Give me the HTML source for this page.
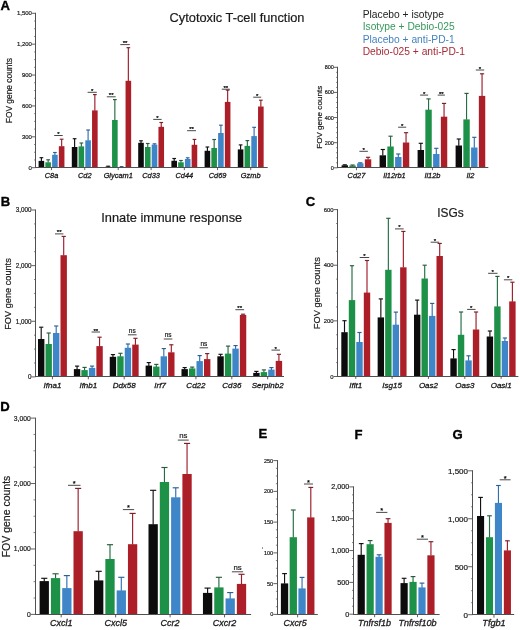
<!DOCTYPE html>
<html><head><meta charset="utf-8"><title>Figure</title>
<style>
html,body{margin:0;padding:0;background:#fff;}
svg{display:block;font-family:"Liberation Sans",sans-serif;}
</style></head><body>
<svg width="520" height="630" viewBox="0 0 520 630">
<rect width="520" height="630" fill="#fff"/>
<rect x="38.6" y="160.9" width="5.6" height="6.8" fill="#0c0c0c"/>
<line x1="41.4" y1="161.2" x2="41.4" y2="157.7" stroke="#111" stroke-width="1.15"/>
<line x1="39.55" y1="157.7" x2="43.25" y2="157.7" stroke="#111" stroke-width="1.15"/>
<rect x="45.35" y="162.3" width="5.6" height="5.4" fill="#1e9148"/>
<line x1="48.15" y1="162.6" x2="48.15" y2="159.8" stroke="#236e44" stroke-width="1.15"/>
<line x1="46.3" y1="159.8" x2="50" y2="159.8" stroke="#2c5a3c" stroke-width="1.15"/>
<rect x="52.1" y="154.8" width="5.6" height="12.9" fill="#3f86c8"/>
<line x1="54.9" y1="155.1" x2="54.9" y2="152.5" stroke="#2f70b4" stroke-width="1.15"/>
<line x1="53.05" y1="152.5" x2="56.75" y2="152.5" stroke="#2f5f92" stroke-width="1.15"/>
<rect x="58.85" y="146.2" width="5.6" height="21.5" fill="#ad1f28"/>
<line x1="61.65" y1="146.5" x2="61.65" y2="139.2" stroke="#9e1c2a" stroke-width="1.15"/>
<line x1="59.8" y1="139.2" x2="63.5" y2="139.2" stroke="#7a2028" stroke-width="1.15"/>
<text x="51.53" y="178.2" font-size="7.4" text-anchor="middle" font-style="italic" fill="#1a1a1a" stroke="#1a1a1a" stroke-width="0.3">C8a</text>
<line x1="51.53" y1="167.7" x2="51.53" y2="170.1" stroke="#505050" stroke-width="0.9"/>
<rect x="71.8" y="147" width="5.6" height="20.7" fill="#0c0c0c"/>
<line x1="74.6" y1="147.3" x2="74.6" y2="138.7" stroke="#111" stroke-width="1.15"/>
<line x1="72.75" y1="138.7" x2="76.45" y2="138.7" stroke="#111" stroke-width="1.15"/>
<rect x="78.55" y="146.4" width="5.6" height="21.3" fill="#1e9148"/>
<line x1="81.35" y1="146.7" x2="81.35" y2="143" stroke="#236e44" stroke-width="1.15"/>
<line x1="79.5" y1="143" x2="83.2" y2="143" stroke="#2c5a3c" stroke-width="1.15"/>
<rect x="85.3" y="140.3" width="5.6" height="27.4" fill="#3f86c8"/>
<line x1="88.1" y1="140.6" x2="88.1" y2="130" stroke="#2f70b4" stroke-width="1.15"/>
<line x1="86.25" y1="130" x2="89.95" y2="130" stroke="#2f5f92" stroke-width="1.15"/>
<rect x="92.05" y="110.4" width="5.6" height="57.3" fill="#ad1f28"/>
<line x1="94.85" y1="110.7" x2="94.85" y2="94.6" stroke="#9e1c2a" stroke-width="1.15"/>
<line x1="93" y1="94.6" x2="96.7" y2="94.6" stroke="#7a2028" stroke-width="1.15"/>
<text x="84.73" y="178.2" font-size="7.4" text-anchor="middle" font-style="italic" fill="#1a1a1a" stroke="#1a1a1a" stroke-width="0.3">Cd2</text>
<line x1="84.73" y1="167.7" x2="84.73" y2="170.1" stroke="#505050" stroke-width="0.9"/>
<rect x="105.3" y="166.7" width="5.6" height="1" fill="#0c0c0c"/>
<line x1="108.1" y1="167" x2="108.1" y2="166.2" stroke="#111" stroke-width="1.15"/>
<line x1="106.25" y1="166.2" x2="109.95" y2="166.2" stroke="#111" stroke-width="1.15"/>
<rect x="112.05" y="120" width="5.6" height="47.7" fill="#1e9148"/>
<line x1="114.85" y1="120.3" x2="114.85" y2="99.6" stroke="#236e44" stroke-width="1.15"/>
<line x1="113" y1="99.6" x2="116.7" y2="99.6" stroke="#2c5a3c" stroke-width="1.15"/>
<rect x="118.8" y="167" width="5.6" height="0.7" fill="#3f86c8"/>
<line x1="121.6" y1="167.3" x2="121.6" y2="166.6" stroke="#2f70b4" stroke-width="1.15"/>
<line x1="119.75" y1="166.6" x2="123.45" y2="166.6" stroke="#2f5f92" stroke-width="1.15"/>
<rect x="125.55" y="80.8" width="5.6" height="86.9" fill="#ad1f28"/>
<line x1="128.35" y1="81.1" x2="128.35" y2="47.7" stroke="#9e1c2a" stroke-width="1.15"/>
<line x1="126.5" y1="47.7" x2="130.2" y2="47.7" stroke="#7a2028" stroke-width="1.15"/>
<text x="118.22" y="178.2" font-size="7.4" text-anchor="middle" font-style="italic" fill="#1a1a1a" stroke="#1a1a1a" stroke-width="0.3">Glycam1</text>
<line x1="118.22" y1="167.7" x2="118.22" y2="170.1" stroke="#505050" stroke-width="0.9"/>
<rect x="138.2" y="142.8" width="5.6" height="24.9" fill="#0c0c0c"/>
<line x1="141" y1="143.1" x2="141" y2="140.8" stroke="#111" stroke-width="1.15"/>
<line x1="139.15" y1="140.8" x2="142.85" y2="140.8" stroke="#111" stroke-width="1.15"/>
<rect x="144.95" y="147" width="5.6" height="20.7" fill="#1e9148"/>
<line x1="147.75" y1="147.3" x2="147.75" y2="143.5" stroke="#236e44" stroke-width="1.15"/>
<line x1="145.9" y1="143.5" x2="149.6" y2="143.5" stroke="#2c5a3c" stroke-width="1.15"/>
<rect x="151.7" y="144.6" width="5.6" height="23.1" fill="#3f86c8"/>
<line x1="154.5" y1="144.9" x2="154.5" y2="143.8" stroke="#2f70b4" stroke-width="1.15"/>
<line x1="152.65" y1="143.8" x2="156.35" y2="143.8" stroke="#2f5f92" stroke-width="1.15"/>
<rect x="158.45" y="126.8" width="5.6" height="40.9" fill="#ad1f28"/>
<line x1="161.25" y1="127.1" x2="161.25" y2="122.5" stroke="#9e1c2a" stroke-width="1.15"/>
<line x1="159.4" y1="122.5" x2="163.1" y2="122.5" stroke="#7a2028" stroke-width="1.15"/>
<text x="151.13" y="178.2" font-size="7.4" text-anchor="middle" font-style="italic" fill="#1a1a1a" stroke="#1a1a1a" stroke-width="0.3">Cd33</text>
<line x1="151.13" y1="167.7" x2="151.13" y2="170.1" stroke="#505050" stroke-width="0.9"/>
<rect x="171.4" y="160.8" width="5.6" height="6.9" fill="#0c0c0c"/>
<line x1="174.2" y1="161.1" x2="174.2" y2="158.5" stroke="#111" stroke-width="1.15"/>
<line x1="172.35" y1="158.5" x2="176.05" y2="158.5" stroke="#111" stroke-width="1.15"/>
<rect x="178.15" y="162.3" width="5.6" height="5.4" fill="#1e9148"/>
<line x1="180.95" y1="162.6" x2="180.95" y2="160.5" stroke="#236e44" stroke-width="1.15"/>
<line x1="179.1" y1="160.5" x2="182.8" y2="160.5" stroke="#2c5a3c" stroke-width="1.15"/>
<rect x="184.9" y="159" width="5.6" height="8.7" fill="#3f86c8"/>
<line x1="187.7" y1="159.3" x2="187.7" y2="157.8" stroke="#2f70b4" stroke-width="1.15"/>
<line x1="185.85" y1="157.8" x2="189.55" y2="157.8" stroke="#2f5f92" stroke-width="1.15"/>
<rect x="191.65" y="144.8" width="5.6" height="22.9" fill="#ad1f28"/>
<line x1="194.45" y1="145.1" x2="194.45" y2="139.4" stroke="#9e1c2a" stroke-width="1.15"/>
<line x1="192.6" y1="139.4" x2="196.3" y2="139.4" stroke="#7a2028" stroke-width="1.15"/>
<text x="184.33" y="178.2" font-size="7.4" text-anchor="middle" font-style="italic" fill="#1a1a1a" stroke="#1a1a1a" stroke-width="0.3">Cd44</text>
<line x1="184.33" y1="167.7" x2="184.33" y2="170.1" stroke="#505050" stroke-width="0.9"/>
<rect x="204.6" y="150.8" width="5.6" height="16.9" fill="#0c0c0c"/>
<line x1="207.4" y1="151.1" x2="207.4" y2="147" stroke="#111" stroke-width="1.15"/>
<line x1="205.55" y1="147" x2="209.25" y2="147" stroke="#111" stroke-width="1.15"/>
<rect x="211.35" y="148" width="5.6" height="19.7" fill="#1e9148"/>
<line x1="214.15" y1="148.3" x2="214.15" y2="139.5" stroke="#236e44" stroke-width="1.15"/>
<line x1="212.3" y1="139.5" x2="216" y2="139.5" stroke="#2c5a3c" stroke-width="1.15"/>
<rect x="218.1" y="133" width="5.6" height="34.7" fill="#3f86c8"/>
<line x1="220.9" y1="133.3" x2="220.9" y2="125.2" stroke="#2f70b4" stroke-width="1.15"/>
<line x1="219.05" y1="125.2" x2="222.75" y2="125.2" stroke="#2f5f92" stroke-width="1.15"/>
<rect x="224.85" y="101.9" width="5.6" height="65.8" fill="#ad1f28"/>
<line x1="227.65" y1="102.2" x2="227.65" y2="90.1" stroke="#9e1c2a" stroke-width="1.15"/>
<line x1="225.8" y1="90.1" x2="229.5" y2="90.1" stroke="#7a2028" stroke-width="1.15"/>
<text x="217.53" y="178.2" font-size="7.4" text-anchor="middle" font-style="italic" fill="#1a1a1a" stroke="#1a1a1a" stroke-width="0.3">Cd69</text>
<line x1="217.53" y1="167.7" x2="217.53" y2="170.1" stroke="#505050" stroke-width="0.9"/>
<rect x="237.8" y="149.4" width="5.6" height="18.3" fill="#0c0c0c"/>
<line x1="240.6" y1="149.7" x2="240.6" y2="144.9" stroke="#111" stroke-width="1.15"/>
<line x1="238.75" y1="144.9" x2="242.45" y2="144.9" stroke="#111" stroke-width="1.15"/>
<rect x="244.55" y="145.9" width="5.6" height="21.8" fill="#1e9148"/>
<line x1="247.35" y1="146.2" x2="247.35" y2="140.6" stroke="#236e44" stroke-width="1.15"/>
<line x1="245.5" y1="140.6" x2="249.2" y2="140.6" stroke="#2c5a3c" stroke-width="1.15"/>
<rect x="251.3" y="136.1" width="5.6" height="31.6" fill="#3f86c8"/>
<line x1="254.1" y1="136.4" x2="254.1" y2="127.3" stroke="#2f70b4" stroke-width="1.15"/>
<line x1="252.25" y1="127.3" x2="255.95" y2="127.3" stroke="#2f5f92" stroke-width="1.15"/>
<rect x="258.05" y="106.5" width="5.6" height="61.2" fill="#ad1f28"/>
<line x1="260.85" y1="106.8" x2="260.85" y2="100.2" stroke="#9e1c2a" stroke-width="1.15"/>
<line x1="259" y1="100.2" x2="262.7" y2="100.2" stroke="#7a2028" stroke-width="1.15"/>
<text x="250.73" y="178.2" font-size="7.4" text-anchor="middle" font-style="italic" fill="#1a1a1a" stroke="#1a1a1a" stroke-width="0.3">Gzmb</text>
<line x1="250.73" y1="167.7" x2="250.73" y2="170.1" stroke="#505050" stroke-width="0.9"/>
<line x1="35.5" y1="12.8" x2="35.5" y2="168" stroke="#505050" stroke-width="1"/>
<line x1="35" y1="167.5" x2="267.7" y2="167.5" stroke="#505050" stroke-width="1"/>
<line x1="32" y1="167.7" x2="35.6" y2="167.7" stroke="#505050" stroke-width="0.9"/>
<text x="31.9" y="169.86" font-size="6.0" text-anchor="end" fill="#1a1a1a" stroke="#1a1a1a" stroke-width="0.2">0</text>
<line x1="32" y1="136.82" x2="35.6" y2="136.82" stroke="#505050" stroke-width="0.9"/>
<text x="31.9" y="138.98" font-size="6.0" text-anchor="end" fill="#1a1a1a" stroke="#1a1a1a" stroke-width="0.2">300</text>
<line x1="32" y1="105.94" x2="35.6" y2="105.94" stroke="#505050" stroke-width="0.9"/>
<text x="31.9" y="108.1" font-size="6.0" text-anchor="end" fill="#1a1a1a" stroke="#1a1a1a" stroke-width="0.2">600</text>
<line x1="32" y1="75.06" x2="35.6" y2="75.06" stroke="#505050" stroke-width="0.9"/>
<text x="31.9" y="77.22" font-size="6.0" text-anchor="end" fill="#1a1a1a" stroke="#1a1a1a" stroke-width="0.2">900</text>
<line x1="32" y1="44.18" x2="35.6" y2="44.18" stroke="#505050" stroke-width="0.9"/>
<text x="31.9" y="46.34" font-size="6.0" text-anchor="end" fill="#1a1a1a" stroke="#1a1a1a" stroke-width="0.2">1,200</text>
<line x1="32" y1="13.3" x2="35.6" y2="13.3" stroke="#505050" stroke-width="0.9"/>
<text x="31.9" y="15.46" font-size="6.0" text-anchor="end" fill="#1a1a1a" stroke="#1a1a1a" stroke-width="0.2">1,500</text>
<line x1="34.1" y1="159.98" x2="35.6" y2="159.98" stroke="#505050" stroke-width="0.7"/>
<line x1="34.1" y1="152.26" x2="35.6" y2="152.26" stroke="#505050" stroke-width="0.7"/>
<line x1="34.1" y1="144.54" x2="35.6" y2="144.54" stroke="#505050" stroke-width="0.7"/>
<line x1="34.1" y1="129.1" x2="35.6" y2="129.1" stroke="#505050" stroke-width="0.7"/>
<line x1="34.1" y1="121.38" x2="35.6" y2="121.38" stroke="#505050" stroke-width="0.7"/>
<line x1="34.1" y1="113.66" x2="35.6" y2="113.66" stroke="#505050" stroke-width="0.7"/>
<line x1="34.1" y1="98.22" x2="35.6" y2="98.22" stroke="#505050" stroke-width="0.7"/>
<line x1="34.1" y1="90.5" x2="35.6" y2="90.5" stroke="#505050" stroke-width="0.7"/>
<line x1="34.1" y1="82.78" x2="35.6" y2="82.78" stroke="#505050" stroke-width="0.7"/>
<line x1="34.1" y1="67.34" x2="35.6" y2="67.34" stroke="#505050" stroke-width="0.7"/>
<line x1="34.1" y1="59.62" x2="35.6" y2="59.62" stroke="#505050" stroke-width="0.7"/>
<line x1="34.1" y1="51.9" x2="35.6" y2="51.9" stroke="#505050" stroke-width="0.7"/>
<line x1="34.1" y1="36.46" x2="35.6" y2="36.46" stroke="#505050" stroke-width="0.7"/>
<line x1="34.1" y1="28.74" x2="35.6" y2="28.74" stroke="#505050" stroke-width="0.7"/>
<line x1="34.1" y1="21.02" x2="35.6" y2="21.02" stroke="#505050" stroke-width="0.7"/>
<line x1="54.2" y1="135.5" x2="62.7" y2="135.5" stroke="#333" stroke-width="0.9"/>
<text x="58.45" y="136" font-size="6.2" text-anchor="middle" fill="#000" stroke="#000" stroke-width="0.2">*</text>
<line x1="87.6" y1="92.3" x2="96.8" y2="92.3" stroke="#333" stroke-width="0.9"/>
<text x="92.2" y="92.8" font-size="6.2" text-anchor="middle" fill="#000" stroke="#000" stroke-width="0.2">*</text>
<line x1="106.8" y1="96.8" x2="115.7" y2="96.8" stroke="#333" stroke-width="0.9"/>
<text x="111.25" y="97.3" font-size="6.2" text-anchor="middle" fill="#000" stroke="#000" stroke-width="0.2">**</text>
<line x1="120.3" y1="44.6" x2="129.8" y2="44.6" stroke="#333" stroke-width="0.9"/>
<text x="125.05" y="45.1" font-size="6.2" text-anchor="middle" fill="#000" stroke="#000" stroke-width="0.2">**</text>
<line x1="153.2" y1="119.4" x2="161.6" y2="119.4" stroke="#333" stroke-width="0.9"/>
<text x="157.4" y="119.9" font-size="6.2" text-anchor="middle" fill="#000" stroke="#000" stroke-width="0.2">*</text>
<line x1="187.1" y1="130.7" x2="196" y2="130.7" stroke="#333" stroke-width="0.9"/>
<text x="191.55" y="131.2" font-size="6.2" text-anchor="middle" fill="#000" stroke="#000" stroke-width="0.2">**</text>
<line x1="221.8" y1="89.2" x2="229.8" y2="89.2" stroke="#333" stroke-width="0.9"/>
<text x="225.8" y="89.7" font-size="6.2" text-anchor="middle" fill="#000" stroke="#000" stroke-width="0.2">**</text>
<line x1="253.2" y1="97.2" x2="261.2" y2="97.2" stroke="#333" stroke-width="0.9"/>
<text x="257.2" y="97.7" font-size="6.2" text-anchor="middle" fill="#000" stroke="#000" stroke-width="0.2">*</text>
<text transform="translate(12,90.6) rotate(-90)" font-size="8.4" text-anchor="middle" fill="#1a1a1a" stroke="#1a1a1a" stroke-width="0.2">FOV gene counts</text>
<rect x="341.6" y="165.3" width="6.4" height="2.5" fill="#0c0c0c"/>
<line x1="344.8" y1="165.6" x2="344.8" y2="164.8" stroke="#111" stroke-width="1.15"/>
<line x1="342.69" y1="164.8" x2="346.91" y2="164.8" stroke="#111" stroke-width="1.15"/>
<rect x="349.35" y="165.5" width="6.4" height="2.3" fill="#1e9148"/>
<line x1="352.55" y1="165.8" x2="352.55" y2="165" stroke="#236e44" stroke-width="1.15"/>
<line x1="350.44" y1="165" x2="354.66" y2="165" stroke="#2c5a3c" stroke-width="1.15"/>
<rect x="357.1" y="163.3" width="6.4" height="4.5" fill="#3f86c8"/>
<line x1="360.3" y1="163.6" x2="360.3" y2="162.8" stroke="#2f70b4" stroke-width="1.15"/>
<line x1="358.19" y1="162.8" x2="362.41" y2="162.8" stroke="#2f5f92" stroke-width="1.15"/>
<rect x="364.85" y="159.3" width="6.4" height="8.5" fill="#ad1f28"/>
<line x1="368.05" y1="159.6" x2="368.05" y2="157.3" stroke="#9e1c2a" stroke-width="1.15"/>
<line x1="365.94" y1="157.3" x2="370.16" y2="157.3" stroke="#7a2028" stroke-width="1.15"/>
<text x="356.43" y="178.2" font-size="7.4" text-anchor="middle" font-style="italic" fill="#1a1a1a" stroke="#1a1a1a" stroke-width="0.3">Cd27</text>
<line x1="356.43" y1="167.8" x2="356.43" y2="170.2" stroke="#505050" stroke-width="0.9"/>
<rect x="379.6" y="155.3" width="6.4" height="12.5" fill="#0c0c0c"/>
<line x1="382.8" y1="155.6" x2="382.8" y2="149.5" stroke="#111" stroke-width="1.15"/>
<line x1="380.69" y1="149.5" x2="384.91" y2="149.5" stroke="#111" stroke-width="1.15"/>
<rect x="387.35" y="146.5" width="6.4" height="21.3" fill="#1e9148"/>
<line x1="390.55" y1="146.8" x2="390.55" y2="136.2" stroke="#236e44" stroke-width="1.15"/>
<line x1="388.44" y1="136.2" x2="392.66" y2="136.2" stroke="#2c5a3c" stroke-width="1.15"/>
<rect x="395.1" y="157" width="6.4" height="10.8" fill="#3f86c8"/>
<line x1="398.3" y1="157.3" x2="398.3" y2="154" stroke="#2f70b4" stroke-width="1.15"/>
<line x1="396.19" y1="154" x2="400.41" y2="154" stroke="#2f5f92" stroke-width="1.15"/>
<rect x="402.85" y="142.5" width="6.4" height="25.3" fill="#ad1f28"/>
<line x1="406.05" y1="142.8" x2="406.05" y2="132.7" stroke="#9e1c2a" stroke-width="1.15"/>
<line x1="403.94" y1="132.7" x2="408.16" y2="132.7" stroke="#7a2028" stroke-width="1.15"/>
<text x="394.43" y="178.2" font-size="7.4" text-anchor="middle" font-style="italic" fill="#1a1a1a" stroke="#1a1a1a" stroke-width="0.3">Il12rb1</text>
<line x1="394.43" y1="167.8" x2="394.43" y2="170.2" stroke="#505050" stroke-width="0.9"/>
<rect x="417.6" y="150" width="6.4" height="17.8" fill="#0c0c0c"/>
<line x1="420.8" y1="150.3" x2="420.8" y2="143.3" stroke="#111" stroke-width="1.15"/>
<line x1="418.69" y1="143.3" x2="422.91" y2="143.3" stroke="#111" stroke-width="1.15"/>
<rect x="425.35" y="109.7" width="6.4" height="58.1" fill="#1e9148"/>
<line x1="428.55" y1="110" x2="428.55" y2="98.9" stroke="#236e44" stroke-width="1.15"/>
<line x1="426.44" y1="98.9" x2="430.66" y2="98.9" stroke="#2c5a3c" stroke-width="1.15"/>
<rect x="433.1" y="154" width="6.4" height="13.8" fill="#3f86c8"/>
<line x1="436.3" y1="154.3" x2="436.3" y2="148.3" stroke="#2f70b4" stroke-width="1.15"/>
<line x1="434.19" y1="148.3" x2="438.41" y2="148.3" stroke="#2f5f92" stroke-width="1.15"/>
<rect x="440.85" y="116.7" width="6.4" height="51.1" fill="#ad1f28"/>
<line x1="444.05" y1="117" x2="444.05" y2="103.4" stroke="#9e1c2a" stroke-width="1.15"/>
<line x1="441.94" y1="103.4" x2="446.16" y2="103.4" stroke="#7a2028" stroke-width="1.15"/>
<text x="432.43" y="178.2" font-size="7.4" text-anchor="middle" font-style="italic" fill="#1a1a1a" stroke="#1a1a1a" stroke-width="0.3">Il12b</text>
<line x1="432.43" y1="167.8" x2="432.43" y2="170.2" stroke="#505050" stroke-width="0.9"/>
<rect x="455.6" y="145.5" width="6.4" height="22.3" fill="#0c0c0c"/>
<line x1="458.8" y1="145.8" x2="458.8" y2="139" stroke="#111" stroke-width="1.15"/>
<line x1="456.69" y1="139" x2="460.91" y2="139" stroke="#111" stroke-width="1.15"/>
<rect x="463.35" y="119.4" width="6.4" height="48.4" fill="#1e9148"/>
<line x1="466.55" y1="119.7" x2="466.55" y2="93.4" stroke="#236e44" stroke-width="1.15"/>
<line x1="464.44" y1="93.4" x2="468.66" y2="93.4" stroke="#2c5a3c" stroke-width="1.15"/>
<rect x="471.1" y="147.5" width="6.4" height="20.3" fill="#3f86c8"/>
<line x1="474.3" y1="147.8" x2="474.3" y2="137.3" stroke="#2f70b4" stroke-width="1.15"/>
<line x1="472.19" y1="137.3" x2="476.41" y2="137.3" stroke="#2f5f92" stroke-width="1.15"/>
<rect x="478.85" y="95.9" width="6.4" height="71.9" fill="#ad1f28"/>
<line x1="482.05" y1="96.2" x2="482.05" y2="73.8" stroke="#9e1c2a" stroke-width="1.15"/>
<line x1="479.94" y1="73.8" x2="484.16" y2="73.8" stroke="#7a2028" stroke-width="1.15"/>
<text x="470.43" y="178.2" font-size="7.4" text-anchor="middle" font-style="italic" fill="#1a1a1a" stroke="#1a1a1a" stroke-width="0.3">Il2</text>
<line x1="470.43" y1="167.8" x2="470.43" y2="170.2" stroke="#505050" stroke-width="0.9"/>
<line x1="337.5" y1="66.8" x2="337.5" y2="168" stroke="#505050" stroke-width="1"/>
<line x1="337" y1="167.5" x2="488.3" y2="167.5" stroke="#505050" stroke-width="1"/>
<line x1="334" y1="167.8" x2="337.6" y2="167.8" stroke="#505050" stroke-width="0.9"/>
<text x="333.9" y="169.78" font-size="5.5" text-anchor="end" fill="#1a1a1a" stroke="#1a1a1a" stroke-width="0.2">0</text>
<line x1="334" y1="142.68" x2="337.6" y2="142.68" stroke="#505050" stroke-width="0.9"/>
<text x="333.9" y="144.66" font-size="5.5" text-anchor="end" fill="#1a1a1a" stroke="#1a1a1a" stroke-width="0.2">200</text>
<line x1="334" y1="117.55" x2="337.6" y2="117.55" stroke="#505050" stroke-width="0.9"/>
<text x="333.9" y="119.53" font-size="5.5" text-anchor="end" fill="#1a1a1a" stroke="#1a1a1a" stroke-width="0.2">400</text>
<line x1="334" y1="92.42" x2="337.6" y2="92.42" stroke="#505050" stroke-width="0.9"/>
<text x="333.9" y="94.41" font-size="5.5" text-anchor="end" fill="#1a1a1a" stroke="#1a1a1a" stroke-width="0.2">600</text>
<line x1="334" y1="67.3" x2="337.6" y2="67.3" stroke="#505050" stroke-width="0.9"/>
<text x="333.9" y="69.28" font-size="5.5" text-anchor="end" fill="#1a1a1a" stroke="#1a1a1a" stroke-width="0.2">800</text>
<line x1="336.1" y1="162.78" x2="337.6" y2="162.78" stroke="#505050" stroke-width="0.7"/>
<line x1="336.1" y1="157.75" x2="337.6" y2="157.75" stroke="#505050" stroke-width="0.7"/>
<line x1="336.1" y1="152.73" x2="337.6" y2="152.73" stroke="#505050" stroke-width="0.7"/>
<line x1="336.1" y1="147.7" x2="337.6" y2="147.7" stroke="#505050" stroke-width="0.7"/>
<line x1="336.1" y1="137.65" x2="337.6" y2="137.65" stroke="#505050" stroke-width="0.7"/>
<line x1="336.1" y1="132.62" x2="337.6" y2="132.62" stroke="#505050" stroke-width="0.7"/>
<line x1="336.1" y1="127.6" x2="337.6" y2="127.6" stroke="#505050" stroke-width="0.7"/>
<line x1="336.1" y1="122.58" x2="337.6" y2="122.58" stroke="#505050" stroke-width="0.7"/>
<line x1="336.1" y1="112.53" x2="337.6" y2="112.53" stroke="#505050" stroke-width="0.7"/>
<line x1="336.1" y1="107.5" x2="337.6" y2="107.5" stroke="#505050" stroke-width="0.7"/>
<line x1="336.1" y1="102.48" x2="337.6" y2="102.48" stroke="#505050" stroke-width="0.7"/>
<line x1="336.1" y1="97.45" x2="337.6" y2="97.45" stroke="#505050" stroke-width="0.7"/>
<line x1="336.1" y1="87.4" x2="337.6" y2="87.4" stroke="#505050" stroke-width="0.7"/>
<line x1="336.1" y1="82.38" x2="337.6" y2="82.38" stroke="#505050" stroke-width="0.7"/>
<line x1="336.1" y1="77.35" x2="337.6" y2="77.35" stroke="#505050" stroke-width="0.7"/>
<line x1="336.1" y1="72.33" x2="337.6" y2="72.33" stroke="#505050" stroke-width="0.7"/>
<line x1="359.4" y1="151.3" x2="367.9" y2="151.3" stroke="#333" stroke-width="0.9"/>
<text x="363.65" y="151.8" font-size="6.2" text-anchor="middle" fill="#000" stroke="#000" stroke-width="0.2">*</text>
<line x1="398.1" y1="127.2" x2="406.2" y2="127.2" stroke="#333" stroke-width="0.9"/>
<text x="402.15" y="127.7" font-size="6.2" text-anchor="middle" fill="#000" stroke="#000" stroke-width="0.2">*</text>
<line x1="420.1" y1="95.1" x2="428.1" y2="95.1" stroke="#333" stroke-width="0.9"/>
<text x="424.1" y="95.6" font-size="6.2" text-anchor="middle" fill="#000" stroke="#000" stroke-width="0.2">*</text>
<line x1="437.7" y1="95.1" x2="444.9" y2="95.1" stroke="#333" stroke-width="0.9"/>
<text x="441.3" y="95.6" font-size="6.2" text-anchor="middle" fill="#000" stroke="#000" stroke-width="0.2">**</text>
<line x1="475.8" y1="70" x2="484.2" y2="70" stroke="#333" stroke-width="0.9"/>
<text x="480" y="70.5" font-size="6.2" text-anchor="middle" fill="#000" stroke="#000" stroke-width="0.2">*</text>
<text transform="translate(321.5,117.3) rotate(-90)" font-size="8.1" text-anchor="middle" fill="#1a1a1a" stroke="#1a1a1a" stroke-width="0.2">FOV gene counts</text>
<rect x="38" y="339" width="6.4" height="37.9" fill="#0c0c0c"/>
<line x1="41.2" y1="339.3" x2="41.2" y2="327.2" stroke="#111" stroke-width="1.15"/>
<line x1="39.09" y1="327.2" x2="43.31" y2="327.2" stroke="#111" stroke-width="1.15"/>
<rect x="45.5" y="344" width="6.4" height="32.9" fill="#1e9148"/>
<line x1="48.7" y1="344.3" x2="48.7" y2="333" stroke="#236e44" stroke-width="1.15"/>
<line x1="46.59" y1="333" x2="50.81" y2="333" stroke="#2c5a3c" stroke-width="1.15"/>
<rect x="53" y="333" width="6.4" height="43.9" fill="#3f86c8"/>
<line x1="56.2" y1="333.3" x2="56.2" y2="326" stroke="#2f70b4" stroke-width="1.15"/>
<line x1="54.09" y1="326" x2="58.31" y2="326" stroke="#2f5f92" stroke-width="1.15"/>
<rect x="60.5" y="255.2" width="6.4" height="121.7" fill="#ad1f28"/>
<line x1="63.7" y1="255.5" x2="63.7" y2="236.4" stroke="#9e1c2a" stroke-width="1.15"/>
<line x1="61.59" y1="236.4" x2="65.81" y2="236.4" stroke="#7a2028" stroke-width="1.15"/>
<text x="52.45" y="388.3" font-size="8.0" text-anchor="middle" font-style="italic" fill="#1a1a1a" stroke="#1a1a1a" stroke-width="0.3">Ifna1</text>
<line x1="52.45" y1="376.9" x2="52.45" y2="379.3" stroke="#505050" stroke-width="0.9"/>
<rect x="73.87" y="369.1" width="6.4" height="7.8" fill="#0c0c0c"/>
<line x1="77.07" y1="369.4" x2="77.07" y2="366.1" stroke="#111" stroke-width="1.15"/>
<line x1="74.96" y1="366.1" x2="79.18" y2="366.1" stroke="#111" stroke-width="1.15"/>
<rect x="81.37" y="370.1" width="6.4" height="6.8" fill="#1e9148"/>
<line x1="84.57" y1="370.4" x2="84.57" y2="367.4" stroke="#236e44" stroke-width="1.15"/>
<line x1="82.46" y1="367.4" x2="86.68" y2="367.4" stroke="#2c5a3c" stroke-width="1.15"/>
<rect x="88.87" y="367.9" width="6.4" height="9" fill="#3f86c8"/>
<line x1="92.07" y1="368.2" x2="92.07" y2="366.1" stroke="#2f70b4" stroke-width="1.15"/>
<line x1="89.96" y1="366.1" x2="94.18" y2="366.1" stroke="#2f5f92" stroke-width="1.15"/>
<rect x="96.37" y="346.1" width="6.4" height="30.8" fill="#ad1f28"/>
<line x1="99.57" y1="346.4" x2="99.57" y2="337.2" stroke="#9e1c2a" stroke-width="1.15"/>
<line x1="97.46" y1="337.2" x2="101.68" y2="337.2" stroke="#7a2028" stroke-width="1.15"/>
<text x="88.32" y="388.3" font-size="8.0" text-anchor="middle" font-style="italic" fill="#1a1a1a" stroke="#1a1a1a" stroke-width="0.3">Ifnb1</text>
<line x1="88.32" y1="376.9" x2="88.32" y2="379.3" stroke="#505050" stroke-width="0.9"/>
<rect x="109.74" y="356.8" width="6.4" height="20.1" fill="#0c0c0c"/>
<line x1="112.94" y1="357.1" x2="112.94" y2="354.6" stroke="#111" stroke-width="1.15"/>
<line x1="110.83" y1="354.6" x2="115.05" y2="354.6" stroke="#111" stroke-width="1.15"/>
<rect x="117.24" y="356.3" width="6.4" height="20.6" fill="#1e9148"/>
<line x1="120.44" y1="356.6" x2="120.44" y2="353.3" stroke="#236e44" stroke-width="1.15"/>
<line x1="118.33" y1="353.3" x2="122.55" y2="353.3" stroke="#2c5a3c" stroke-width="1.15"/>
<rect x="124.74" y="347.8" width="6.4" height="29.1" fill="#3f86c8"/>
<line x1="127.94" y1="348.1" x2="127.94" y2="344" stroke="#2f70b4" stroke-width="1.15"/>
<line x1="125.83" y1="344" x2="130.05" y2="344" stroke="#2f5f92" stroke-width="1.15"/>
<rect x="132.24" y="344.6" width="6.4" height="32.3" fill="#ad1f28"/>
<line x1="135.44" y1="344.9" x2="135.44" y2="338.3" stroke="#9e1c2a" stroke-width="1.15"/>
<line x1="133.33" y1="338.3" x2="137.55" y2="338.3" stroke="#7a2028" stroke-width="1.15"/>
<text x="124.19" y="388.3" font-size="8.0" text-anchor="middle" font-style="italic" fill="#1a1a1a" stroke="#1a1a1a" stroke-width="0.3">Ddx58</text>
<line x1="124.19" y1="376.9" x2="124.19" y2="379.3" stroke="#505050" stroke-width="0.9"/>
<rect x="145.61" y="365.6" width="6.4" height="11.3" fill="#0c0c0c"/>
<line x1="148.81" y1="365.9" x2="148.81" y2="362.6" stroke="#111" stroke-width="1.15"/>
<line x1="146.7" y1="362.6" x2="150.92" y2="362.6" stroke="#111" stroke-width="1.15"/>
<rect x="153.11" y="366.6" width="6.4" height="10.3" fill="#1e9148"/>
<line x1="156.31" y1="366.9" x2="156.31" y2="364.4" stroke="#236e44" stroke-width="1.15"/>
<line x1="154.2" y1="364.4" x2="158.42" y2="364.4" stroke="#2c5a3c" stroke-width="1.15"/>
<rect x="160.61" y="356.3" width="6.4" height="20.6" fill="#3f86c8"/>
<line x1="163.81" y1="356.6" x2="163.81" y2="348.6" stroke="#2f70b4" stroke-width="1.15"/>
<line x1="161.7" y1="348.6" x2="165.92" y2="348.6" stroke="#2f5f92" stroke-width="1.15"/>
<rect x="168.11" y="352.3" width="6.4" height="24.6" fill="#ad1f28"/>
<line x1="171.31" y1="352.6" x2="171.31" y2="344.8" stroke="#9e1c2a" stroke-width="1.15"/>
<line x1="169.2" y1="344.8" x2="173.42" y2="344.8" stroke="#7a2028" stroke-width="1.15"/>
<text x="160.06" y="388.3" font-size="8.0" text-anchor="middle" font-style="italic" fill="#1a1a1a" stroke="#1a1a1a" stroke-width="0.3">Irf7</text>
<line x1="160.06" y1="376.9" x2="160.06" y2="379.3" stroke="#505050" stroke-width="0.9"/>
<rect x="181.48" y="369.1" width="6.4" height="7.8" fill="#0c0c0c"/>
<line x1="184.68" y1="369.4" x2="184.68" y2="367.6" stroke="#111" stroke-width="1.15"/>
<line x1="182.57" y1="367.6" x2="186.79" y2="367.6" stroke="#111" stroke-width="1.15"/>
<rect x="188.98" y="368.4" width="6.4" height="8.5" fill="#1e9148"/>
<line x1="192.18" y1="368.7" x2="192.18" y2="367.1" stroke="#236e44" stroke-width="1.15"/>
<line x1="190.07" y1="367.1" x2="194.29" y2="367.1" stroke="#2c5a3c" stroke-width="1.15"/>
<rect x="196.48" y="361.1" width="6.4" height="15.8" fill="#3f86c8"/>
<line x1="199.68" y1="361.4" x2="199.68" y2="355.6" stroke="#2f70b4" stroke-width="1.15"/>
<line x1="197.57" y1="355.6" x2="201.79" y2="355.6" stroke="#2f5f92" stroke-width="1.15"/>
<rect x="203.98" y="359.1" width="6.4" height="17.8" fill="#ad1f28"/>
<line x1="207.18" y1="359.4" x2="207.18" y2="353.6" stroke="#9e1c2a" stroke-width="1.15"/>
<line x1="205.07" y1="353.6" x2="209.29" y2="353.6" stroke="#7a2028" stroke-width="1.15"/>
<text x="195.93" y="388.3" font-size="8.0" text-anchor="middle" font-style="italic" fill="#1a1a1a" stroke="#1a1a1a" stroke-width="0.3">Cd22</text>
<line x1="195.93" y1="376.9" x2="195.93" y2="379.3" stroke="#505050" stroke-width="0.9"/>
<rect x="217.35" y="356.3" width="6.4" height="20.6" fill="#0c0c0c"/>
<line x1="220.55" y1="356.6" x2="220.55" y2="354.3" stroke="#111" stroke-width="1.15"/>
<line x1="218.44" y1="354.3" x2="222.66" y2="354.3" stroke="#111" stroke-width="1.15"/>
<rect x="224.85" y="353.6" width="6.4" height="23.3" fill="#1e9148"/>
<line x1="228.05" y1="353.9" x2="228.05" y2="346.1" stroke="#236e44" stroke-width="1.15"/>
<line x1="225.94" y1="346.1" x2="230.16" y2="346.1" stroke="#2c5a3c" stroke-width="1.15"/>
<rect x="232.35" y="348.6" width="6.4" height="28.3" fill="#3f86c8"/>
<line x1="235.55" y1="348.9" x2="235.55" y2="345.6" stroke="#2f70b4" stroke-width="1.15"/>
<line x1="233.44" y1="345.6" x2="237.66" y2="345.6" stroke="#2f5f92" stroke-width="1.15"/>
<rect x="239.85" y="315" width="6.4" height="61.9" fill="#ad1f28"/>
<line x1="243.05" y1="315.3" x2="243.05" y2="314.2" stroke="#9e1c2a" stroke-width="1.15"/>
<line x1="240.94" y1="314.2" x2="245.16" y2="314.2" stroke="#7a2028" stroke-width="1.15"/>
<text x="231.8" y="388.3" font-size="8.0" text-anchor="middle" font-style="italic" fill="#1a1a1a" stroke="#1a1a1a" stroke-width="0.3">Cd36</text>
<line x1="231.8" y1="376.9" x2="231.8" y2="379.3" stroke="#505050" stroke-width="0.9"/>
<rect x="253.22" y="372.9" width="6.4" height="4" fill="#0c0c0c"/>
<line x1="256.42" y1="373.2" x2="256.42" y2="371.4" stroke="#111" stroke-width="1.15"/>
<line x1="254.31" y1="371.4" x2="258.53" y2="371.4" stroke="#111" stroke-width="1.15"/>
<rect x="260.72" y="372.1" width="6.4" height="4.8" fill="#1e9148"/>
<line x1="263.92" y1="372.4" x2="263.92" y2="369.9" stroke="#236e44" stroke-width="1.15"/>
<line x1="261.81" y1="369.9" x2="266.03" y2="369.9" stroke="#2c5a3c" stroke-width="1.15"/>
<rect x="268.22" y="369.6" width="6.4" height="7.3" fill="#3f86c8"/>
<line x1="271.42" y1="369.9" x2="271.42" y2="367.6" stroke="#2f70b4" stroke-width="1.15"/>
<line x1="269.31" y1="367.6" x2="273.53" y2="367.6" stroke="#2f5f92" stroke-width="1.15"/>
<rect x="275.72" y="360.9" width="6.4" height="16" fill="#ad1f28"/>
<line x1="278.92" y1="361.2" x2="278.92" y2="354.3" stroke="#9e1c2a" stroke-width="1.15"/>
<line x1="276.81" y1="354.3" x2="281.03" y2="354.3" stroke="#7a2028" stroke-width="1.15"/>
<text x="267.67" y="388.3" font-size="8.0" text-anchor="middle" font-style="italic" fill="#1a1a1a" stroke="#1a1a1a" stroke-width="0.3">Serpinb2</text>
<line x1="267.67" y1="376.9" x2="267.67" y2="379.3" stroke="#505050" stroke-width="0.9"/>
<line x1="35.5" y1="209.5" x2="35.5" y2="377" stroke="#505050" stroke-width="1"/>
<line x1="35" y1="376.5" x2="284" y2="376.5" stroke="#505050" stroke-width="1"/>
<line x1="31.5" y1="376.9" x2="35.5" y2="376.9" stroke="#505050" stroke-width="0.9"/>
<text x="31.4" y="379.17" font-size="6.3" text-anchor="end" fill="#1a1a1a" stroke="#1a1a1a" stroke-width="0.2">0</text>
<line x1="31.5" y1="321.27" x2="35.5" y2="321.27" stroke="#505050" stroke-width="0.9"/>
<text x="31.4" y="323.53" font-size="6.3" text-anchor="end" fill="#1a1a1a" stroke="#1a1a1a" stroke-width="0.2">1,000</text>
<line x1="31.5" y1="265.63" x2="35.5" y2="265.63" stroke="#505050" stroke-width="0.9"/>
<text x="31.4" y="267.9" font-size="6.3" text-anchor="end" fill="#1a1a1a" stroke="#1a1a1a" stroke-width="0.2">2,000</text>
<line x1="31.5" y1="210" x2="35.5" y2="210" stroke="#505050" stroke-width="0.9"/>
<text x="31.4" y="212.27" font-size="6.3" text-anchor="end" fill="#1a1a1a" stroke="#1a1a1a" stroke-width="0.2">3,000</text>
<line x1="34" y1="362.99" x2="35.5" y2="362.99" stroke="#505050" stroke-width="0.7"/>
<line x1="34" y1="349.08" x2="35.5" y2="349.08" stroke="#505050" stroke-width="0.7"/>
<line x1="34" y1="335.17" x2="35.5" y2="335.17" stroke="#505050" stroke-width="0.7"/>
<line x1="34" y1="307.36" x2="35.5" y2="307.36" stroke="#505050" stroke-width="0.7"/>
<line x1="34" y1="293.45" x2="35.5" y2="293.45" stroke="#505050" stroke-width="0.7"/>
<line x1="34" y1="279.54" x2="35.5" y2="279.54" stroke="#505050" stroke-width="0.7"/>
<line x1="34" y1="251.72" x2="35.5" y2="251.72" stroke="#505050" stroke-width="0.7"/>
<line x1="34" y1="237.82" x2="35.5" y2="237.82" stroke="#505050" stroke-width="0.7"/>
<line x1="34" y1="223.91" x2="35.5" y2="223.91" stroke="#505050" stroke-width="0.7"/>
<line x1="55" y1="233.9" x2="63.4" y2="233.9" stroke="#333" stroke-width="0.9"/>
<text x="59.2" y="234.4" font-size="6.2" text-anchor="middle" fill="#000" stroke="#000" stroke-width="0.2">**</text>
<line x1="91.6" y1="332" x2="100" y2="332" stroke="#333" stroke-width="0.9"/>
<text x="95.8" y="332.5" font-size="6.2" text-anchor="middle" fill="#000" stroke="#000" stroke-width="0.2">**</text>
<line x1="127.9" y1="334.8" x2="136.6" y2="334.8" stroke="#333" stroke-width="0.9"/>
<text x="132.25" y="333" font-size="6.5" text-anchor="middle" fill="#1a1a1a" stroke="#1a1a1a" stroke-width="0.2">ns</text>
<line x1="163.8" y1="339" x2="172.4" y2="339" stroke="#333" stroke-width="0.9"/>
<text x="168.1" y="337.2" font-size="6.5" text-anchor="middle" fill="#1a1a1a" stroke="#1a1a1a" stroke-width="0.2">ns</text>
<line x1="199.6" y1="347.8" x2="208.1" y2="347.8" stroke="#333" stroke-width="0.9"/>
<text x="203.85" y="346" font-size="6.5" text-anchor="middle" fill="#1a1a1a" stroke="#1a1a1a" stroke-width="0.2">ns</text>
<line x1="235.4" y1="309.7" x2="244.1" y2="309.7" stroke="#333" stroke-width="0.9"/>
<text x="239.75" y="310.2" font-size="6.2" text-anchor="middle" fill="#000" stroke="#000" stroke-width="0.2">**</text>
<line x1="271.5" y1="350.1" x2="280" y2="350.1" stroke="#333" stroke-width="0.9"/>
<text x="275.75" y="350.6" font-size="6.2" text-anchor="middle" fill="#000" stroke="#000" stroke-width="0.2">*</text>
<text transform="translate(10.8,294) rotate(-90)" font-size="9.2" text-anchor="middle" fill="#1a1a1a" stroke="#1a1a1a" stroke-width="0.2">FOV gene counts</text>
<rect x="341.3" y="332.2" width="6.4" height="44.3" fill="#0c0c0c"/>
<line x1="344.5" y1="332.5" x2="344.5" y2="320.7" stroke="#111" stroke-width="1.15"/>
<line x1="342.39" y1="320.7" x2="346.61" y2="320.7" stroke="#111" stroke-width="1.15"/>
<rect x="348.8" y="300.1" width="6.4" height="76.4" fill="#1e9148"/>
<line x1="352" y1="300.4" x2="352" y2="265.7" stroke="#236e44" stroke-width="1.15"/>
<line x1="349.89" y1="265.7" x2="354.11" y2="265.7" stroke="#2c5a3c" stroke-width="1.15"/>
<rect x="356.3" y="342" width="6.4" height="34.5" fill="#3f86c8"/>
<line x1="359.5" y1="342.3" x2="359.5" y2="332.5" stroke="#2f70b4" stroke-width="1.15"/>
<line x1="357.39" y1="332.5" x2="361.61" y2="332.5" stroke="#2f5f92" stroke-width="1.15"/>
<rect x="363.8" y="292.6" width="6.4" height="83.9" fill="#ad1f28"/>
<line x1="367" y1="292.9" x2="367" y2="260.5" stroke="#9e1c2a" stroke-width="1.15"/>
<line x1="364.89" y1="260.5" x2="369.11" y2="260.5" stroke="#7a2028" stroke-width="1.15"/>
<text x="355.75" y="388.3" font-size="8.0" text-anchor="middle" font-style="italic" fill="#1a1a1a" stroke="#1a1a1a" stroke-width="0.3">Ifit1</text>
<line x1="355.75" y1="376.5" x2="355.75" y2="378.9" stroke="#505050" stroke-width="0.9"/>
<rect x="377.65" y="317.4" width="6.4" height="59.1" fill="#0c0c0c"/>
<line x1="380.85" y1="317.7" x2="380.85" y2="298.9" stroke="#111" stroke-width="1.15"/>
<line x1="378.74" y1="298.9" x2="382.96" y2="298.9" stroke="#111" stroke-width="1.15"/>
<rect x="385.15" y="269.8" width="6.4" height="106.7" fill="#1e9148"/>
<line x1="388.35" y1="270.1" x2="388.35" y2="218.3" stroke="#236e44" stroke-width="1.15"/>
<line x1="386.24" y1="218.3" x2="390.46" y2="218.3" stroke="#2c5a3c" stroke-width="1.15"/>
<rect x="392.65" y="324.7" width="6.4" height="51.8" fill="#3f86c8"/>
<line x1="395.85" y1="325" x2="395.85" y2="312.1" stroke="#2f70b4" stroke-width="1.15"/>
<line x1="393.74" y1="312.1" x2="397.96" y2="312.1" stroke="#2f5f92" stroke-width="1.15"/>
<rect x="400.15" y="267.3" width="6.4" height="109.2" fill="#ad1f28"/>
<line x1="403.35" y1="267.6" x2="403.35" y2="231.4" stroke="#9e1c2a" stroke-width="1.15"/>
<line x1="401.24" y1="231.4" x2="405.46" y2="231.4" stroke="#7a2028" stroke-width="1.15"/>
<text x="392.1" y="388.3" font-size="8.0" text-anchor="middle" font-style="italic" fill="#1a1a1a" stroke="#1a1a1a" stroke-width="0.3">Isg15</text>
<line x1="392.1" y1="376.5" x2="392.1" y2="378.9" stroke="#505050" stroke-width="0.9"/>
<rect x="414" y="314.7" width="6.4" height="61.8" fill="#0c0c0c"/>
<line x1="417.2" y1="315" x2="417.2" y2="300.1" stroke="#111" stroke-width="1.15"/>
<line x1="415.09" y1="300.1" x2="419.31" y2="300.1" stroke="#111" stroke-width="1.15"/>
<rect x="421.5" y="278.5" width="6.4" height="98" fill="#1e9148"/>
<line x1="424.7" y1="278.8" x2="424.7" y2="265.2" stroke="#236e44" stroke-width="1.15"/>
<line x1="422.59" y1="265.2" x2="426.81" y2="265.2" stroke="#2c5a3c" stroke-width="1.15"/>
<rect x="429" y="315.9" width="6.4" height="60.6" fill="#3f86c8"/>
<line x1="432.2" y1="316.2" x2="432.2" y2="303.4" stroke="#2f70b4" stroke-width="1.15"/>
<line x1="430.09" y1="303.4" x2="434.31" y2="303.4" stroke="#2f5f92" stroke-width="1.15"/>
<rect x="436.5" y="256" width="6.4" height="120.5" fill="#ad1f28"/>
<line x1="439.7" y1="256.3" x2="439.7" y2="243.4" stroke="#9e1c2a" stroke-width="1.15"/>
<line x1="437.59" y1="243.4" x2="441.81" y2="243.4" stroke="#7a2028" stroke-width="1.15"/>
<text x="428.45" y="388.3" font-size="8.0" text-anchor="middle" font-style="italic" fill="#1a1a1a" stroke="#1a1a1a" stroke-width="0.3">Oas2</text>
<line x1="428.45" y1="376.5" x2="428.45" y2="378.9" stroke="#505050" stroke-width="0.9"/>
<rect x="450.35" y="358.4" width="6.4" height="18.1" fill="#0c0c0c"/>
<line x1="453.55" y1="358.7" x2="453.55" y2="349.6" stroke="#111" stroke-width="1.15"/>
<line x1="451.44" y1="349.6" x2="455.66" y2="349.6" stroke="#111" stroke-width="1.15"/>
<rect x="457.85" y="334.8" width="6.4" height="41.7" fill="#1e9148"/>
<line x1="461.05" y1="335.1" x2="461.05" y2="312" stroke="#236e44" stroke-width="1.15"/>
<line x1="458.94" y1="312" x2="463.16" y2="312" stroke="#2c5a3c" stroke-width="1.15"/>
<rect x="465.35" y="360.4" width="6.4" height="16.1" fill="#3f86c8"/>
<line x1="468.55" y1="360.7" x2="468.55" y2="355.8" stroke="#2f70b4" stroke-width="1.15"/>
<line x1="466.44" y1="355.8" x2="470.66" y2="355.8" stroke="#2f5f92" stroke-width="1.15"/>
<rect x="472.85" y="329.5" width="6.4" height="47" fill="#ad1f28"/>
<line x1="476.05" y1="329.8" x2="476.05" y2="312" stroke="#9e1c2a" stroke-width="1.15"/>
<line x1="473.94" y1="312" x2="478.16" y2="312" stroke="#7a2028" stroke-width="1.15"/>
<text x="464.8" y="388.3" font-size="8.0" text-anchor="middle" font-style="italic" fill="#1a1a1a" stroke="#1a1a1a" stroke-width="0.3">Oas3</text>
<line x1="464.8" y1="376.5" x2="464.8" y2="378.9" stroke="#505050" stroke-width="0.9"/>
<rect x="486.7" y="336.5" width="6.4" height="40" fill="#0c0c0c"/>
<line x1="489.9" y1="336.8" x2="489.9" y2="331" stroke="#111" stroke-width="1.15"/>
<line x1="487.79" y1="331" x2="492.01" y2="331" stroke="#111" stroke-width="1.15"/>
<rect x="494.2" y="306.4" width="6.4" height="70.1" fill="#1e9148"/>
<line x1="497.4" y1="306.7" x2="497.4" y2="276.4" stroke="#236e44" stroke-width="1.15"/>
<line x1="495.29" y1="276.4" x2="499.51" y2="276.4" stroke="#2c5a3c" stroke-width="1.15"/>
<rect x="501.7" y="341" width="6.4" height="35.5" fill="#3f86c8"/>
<line x1="504.9" y1="341.3" x2="504.9" y2="338" stroke="#2f70b4" stroke-width="1.15"/>
<line x1="502.79" y1="338" x2="507.01" y2="338" stroke="#2f5f92" stroke-width="1.15"/>
<rect x="509.2" y="301.4" width="6.4" height="75.1" fill="#ad1f28"/>
<line x1="512.4" y1="301.7" x2="512.4" y2="282.2" stroke="#9e1c2a" stroke-width="1.15"/>
<line x1="510.29" y1="282.2" x2="514.51" y2="282.2" stroke="#7a2028" stroke-width="1.15"/>
<text x="501.15" y="388.3" font-size="8.0" text-anchor="middle" font-style="italic" fill="#1a1a1a" stroke="#1a1a1a" stroke-width="0.3">Oasl1</text>
<line x1="501.15" y1="376.5" x2="501.15" y2="378.9" stroke="#505050" stroke-width="0.9"/>
<line x1="337.5" y1="209.1" x2="337.5" y2="377" stroke="#505050" stroke-width="1"/>
<line x1="337" y1="376.5" x2="518.4" y2="376.5" stroke="#505050" stroke-width="1"/>
<line x1="333.6" y1="376.5" x2="337.6" y2="376.5" stroke="#505050" stroke-width="0.9"/>
<text x="333.5" y="378.62" font-size="5.9" text-anchor="end" fill="#1a1a1a" stroke="#1a1a1a" stroke-width="0.2">0</text>
<line x1="333.6" y1="320.87" x2="337.6" y2="320.87" stroke="#505050" stroke-width="0.9"/>
<text x="333.5" y="322.99" font-size="5.9" text-anchor="end" fill="#1a1a1a" stroke="#1a1a1a" stroke-width="0.2">200</text>
<line x1="333.6" y1="265.23" x2="337.6" y2="265.23" stroke="#505050" stroke-width="0.9"/>
<text x="333.5" y="267.36" font-size="5.9" text-anchor="end" fill="#1a1a1a" stroke="#1a1a1a" stroke-width="0.2">400</text>
<line x1="333.6" y1="209.6" x2="337.6" y2="209.6" stroke="#505050" stroke-width="0.9"/>
<text x="333.5" y="211.72" font-size="5.9" text-anchor="end" fill="#1a1a1a" stroke="#1a1a1a" stroke-width="0.2">600</text>
<line x1="336.1" y1="362.59" x2="337.6" y2="362.59" stroke="#505050" stroke-width="0.7"/>
<line x1="336.1" y1="348.68" x2="337.6" y2="348.68" stroke="#505050" stroke-width="0.7"/>
<line x1="336.1" y1="334.77" x2="337.6" y2="334.77" stroke="#505050" stroke-width="0.7"/>
<line x1="336.1" y1="306.96" x2="337.6" y2="306.96" stroke="#505050" stroke-width="0.7"/>
<line x1="336.1" y1="293.05" x2="337.6" y2="293.05" stroke="#505050" stroke-width="0.7"/>
<line x1="336.1" y1="279.14" x2="337.6" y2="279.14" stroke="#505050" stroke-width="0.7"/>
<line x1="336.1" y1="251.32" x2="337.6" y2="251.32" stroke="#505050" stroke-width="0.7"/>
<line x1="336.1" y1="237.42" x2="337.6" y2="237.42" stroke="#505050" stroke-width="0.7"/>
<line x1="336.1" y1="223.51" x2="337.6" y2="223.51" stroke="#505050" stroke-width="0.7"/>
<line x1="359.7" y1="257.5" x2="369.2" y2="257.5" stroke="#333" stroke-width="0.9"/>
<text x="364.45" y="258" font-size="6.2" text-anchor="middle" fill="#000" stroke="#000" stroke-width="0.2">*</text>
<line x1="395" y1="228.9" x2="403.7" y2="228.9" stroke="#333" stroke-width="0.9"/>
<text x="399.35" y="229.4" font-size="6.2" text-anchor="middle" fill="#000" stroke="#000" stroke-width="0.2">*</text>
<line x1="430.7" y1="242.2" x2="439.1" y2="242.2" stroke="#333" stroke-width="0.9"/>
<text x="434.9" y="242.7" font-size="6.2" text-anchor="middle" fill="#000" stroke="#000" stroke-width="0.2">*</text>
<line x1="467.1" y1="309.4" x2="475.5" y2="309.4" stroke="#333" stroke-width="0.9"/>
<text x="471.3" y="309.9" font-size="6.2" text-anchor="middle" fill="#000" stroke="#000" stroke-width="0.2">*</text>
<line x1="488.1" y1="273.3" x2="497.5" y2="273.3" stroke="#333" stroke-width="0.9"/>
<text x="492.8" y="273.8" font-size="6.2" text-anchor="middle" fill="#000" stroke="#000" stroke-width="0.2">*</text>
<line x1="503.9" y1="279.8" x2="512.3" y2="279.8" stroke="#333" stroke-width="0.9"/>
<text x="508.1" y="280.3" font-size="6.2" text-anchor="middle" fill="#000" stroke="#000" stroke-width="0.2">*</text>
<text transform="translate(319.7,293.2) rotate(-90)" font-size="9.25" text-anchor="middle" fill="#1a1a1a" stroke="#1a1a1a" stroke-width="0.2">FOV gene counts</text>
<rect x="39.6" y="581.1" width="9.3" height="33.3" fill="#0c0c0c"/>
<line x1="44.25" y1="581.4" x2="44.25" y2="578.3" stroke="#111" stroke-width="1.15"/>
<line x1="41.18" y1="578.3" x2="47.32" y2="578.3" stroke="#111" stroke-width="1.15"/>
<rect x="50.9" y="578.1" width="9.3" height="36.3" fill="#1e9148"/>
<line x1="55.55" y1="578.4" x2="55.55" y2="573.8" stroke="#236e44" stroke-width="1.15"/>
<line x1="52.48" y1="573.8" x2="58.62" y2="573.8" stroke="#2c5a3c" stroke-width="1.15"/>
<rect x="62.2" y="588.1" width="9.3" height="26.3" fill="#3f86c8"/>
<line x1="66.85" y1="588.4" x2="66.85" y2="575.6" stroke="#2f70b4" stroke-width="1.15"/>
<line x1="63.78" y1="575.6" x2="69.92" y2="575.6" stroke="#2f5f92" stroke-width="1.15"/>
<rect x="73.5" y="531.2" width="9.3" height="83.2" fill="#ad1f28"/>
<line x1="78.15" y1="531.5" x2="78.15" y2="488.4" stroke="#9e1c2a" stroke-width="1.15"/>
<line x1="75.08" y1="488.4" x2="81.22" y2="488.4" stroke="#7a2028" stroke-width="1.15"/>
<text x="61.2" y="626.3" font-size="9" text-anchor="middle" font-style="italic" fill="#1a1a1a" stroke="#1a1a1a" stroke-width="0.3">Cxcl1</text>
<line x1="61.2" y1="614.4" x2="61.2" y2="617.4" stroke="#505050" stroke-width="0.9"/>
<rect x="94.05" y="580.4" width="9.3" height="34" fill="#0c0c0c"/>
<line x1="98.7" y1="580.7" x2="98.7" y2="571.3" stroke="#111" stroke-width="1.15"/>
<line x1="95.63" y1="571.3" x2="101.77" y2="571.3" stroke="#111" stroke-width="1.15"/>
<rect x="105.35" y="559" width="9.3" height="55.4" fill="#1e9148"/>
<line x1="110" y1="559.3" x2="110" y2="544.7" stroke="#236e44" stroke-width="1.15"/>
<line x1="106.93" y1="544.7" x2="113.07" y2="544.7" stroke="#2c5a3c" stroke-width="1.15"/>
<rect x="116.65" y="590.4" width="9.3" height="24" fill="#3f86c8"/>
<line x1="121.3" y1="590.7" x2="121.3" y2="577.3" stroke="#2f70b4" stroke-width="1.15"/>
<line x1="118.23" y1="577.3" x2="124.37" y2="577.3" stroke="#2f5f92" stroke-width="1.15"/>
<rect x="127.95" y="544.2" width="9.3" height="70.2" fill="#ad1f28"/>
<line x1="132.6" y1="544.5" x2="132.6" y2="513.4" stroke="#9e1c2a" stroke-width="1.15"/>
<line x1="129.53" y1="513.4" x2="135.67" y2="513.4" stroke="#7a2028" stroke-width="1.15"/>
<text x="115.65" y="626.3" font-size="9" text-anchor="middle" font-style="italic" fill="#1a1a1a" stroke="#1a1a1a" stroke-width="0.3">Cxcl5</text>
<line x1="115.65" y1="614.4" x2="115.65" y2="617.4" stroke="#505050" stroke-width="0.9"/>
<rect x="148.5" y="524.2" width="9.3" height="90.2" fill="#0c0c0c"/>
<line x1="153.15" y1="524.5" x2="153.15" y2="490.3" stroke="#111" stroke-width="1.15"/>
<line x1="150.08" y1="490.3" x2="156.22" y2="490.3" stroke="#111" stroke-width="1.15"/>
<rect x="159.8" y="482" width="9.3" height="132.4" fill="#1e9148"/>
<line x1="164.45" y1="482.3" x2="164.45" y2="467.5" stroke="#236e44" stroke-width="1.15"/>
<line x1="161.38" y1="467.5" x2="167.52" y2="467.5" stroke="#2c5a3c" stroke-width="1.15"/>
<rect x="171.1" y="497.3" width="9.3" height="117.1" fill="#3f86c8"/>
<line x1="175.75" y1="497.6" x2="175.75" y2="487.8" stroke="#2f70b4" stroke-width="1.15"/>
<line x1="172.68" y1="487.8" x2="178.82" y2="487.8" stroke="#2f5f92" stroke-width="1.15"/>
<rect x="182.4" y="474" width="9.3" height="140.4" fill="#ad1f28"/>
<line x1="187.05" y1="474.3" x2="187.05" y2="443.4" stroke="#9e1c2a" stroke-width="1.15"/>
<line x1="183.98" y1="443.4" x2="190.12" y2="443.4" stroke="#7a2028" stroke-width="1.15"/>
<text x="170.1" y="626.3" font-size="9" text-anchor="middle" font-style="italic" fill="#1a1a1a" stroke="#1a1a1a" stroke-width="0.3">Ccr2</text>
<line x1="170.1" y1="614.4" x2="170.1" y2="617.4" stroke="#505050" stroke-width="0.9"/>
<rect x="202.95" y="592.9" width="9.3" height="21.5" fill="#0c0c0c"/>
<line x1="207.6" y1="593.2" x2="207.6" y2="588.1" stroke="#111" stroke-width="1.15"/>
<line x1="204.53" y1="588.1" x2="210.67" y2="588.1" stroke="#111" stroke-width="1.15"/>
<rect x="214.25" y="587.4" width="9.3" height="27" fill="#1e9148"/>
<line x1="218.9" y1="587.7" x2="218.9" y2="577.3" stroke="#236e44" stroke-width="1.15"/>
<line x1="215.83" y1="577.3" x2="221.97" y2="577.3" stroke="#2c5a3c" stroke-width="1.15"/>
<rect x="225.55" y="598.4" width="9.3" height="16" fill="#3f86c8"/>
<line x1="230.2" y1="598.7" x2="230.2" y2="592.6" stroke="#2f70b4" stroke-width="1.15"/>
<line x1="227.13" y1="592.6" x2="233.27" y2="592.6" stroke="#2f5f92" stroke-width="1.15"/>
<rect x="236.85" y="583.9" width="9.3" height="30.5" fill="#ad1f28"/>
<line x1="241.5" y1="584.2" x2="241.5" y2="574.3" stroke="#9e1c2a" stroke-width="1.15"/>
<line x1="238.43" y1="574.3" x2="244.57" y2="574.3" stroke="#7a2028" stroke-width="1.15"/>
<text x="224.55" y="626.3" font-size="9" text-anchor="middle" font-style="italic" fill="#1a1a1a" stroke="#1a1a1a" stroke-width="0.3">Cxcr2</text>
<line x1="224.55" y1="614.4" x2="224.55" y2="617.4" stroke="#505050" stroke-width="0.9"/>
<line x1="35.5" y1="417.6" x2="35.5" y2="615" stroke="#505050" stroke-width="1"/>
<line x1="35" y1="614.5" x2="251.1" y2="614.5" stroke="#505050" stroke-width="1"/>
<line x1="30.8" y1="614.4" x2="35" y2="614.4" stroke="#505050" stroke-width="0.9"/>
<text x="30.7" y="616.83" font-size="6.75" text-anchor="end" fill="#1a1a1a" stroke="#1a1a1a" stroke-width="0.2">0</text>
<line x1="30.8" y1="548.97" x2="35" y2="548.97" stroke="#505050" stroke-width="0.9"/>
<text x="30.7" y="551.4" font-size="6.75" text-anchor="end" fill="#1a1a1a" stroke="#1a1a1a" stroke-width="0.2">1,000</text>
<line x1="30.8" y1="483.53" x2="35" y2="483.53" stroke="#505050" stroke-width="0.9"/>
<text x="30.7" y="485.96" font-size="6.75" text-anchor="end" fill="#1a1a1a" stroke="#1a1a1a" stroke-width="0.2">2,000</text>
<line x1="30.8" y1="418.1" x2="35" y2="418.1" stroke="#505050" stroke-width="0.9"/>
<text x="30.7" y="420.53" font-size="6.75" text-anchor="end" fill="#1a1a1a" stroke="#1a1a1a" stroke-width="0.2">3,000</text>
<line x1="33.5" y1="598.04" x2="35" y2="598.04" stroke="#505050" stroke-width="0.7"/>
<line x1="33.5" y1="581.68" x2="35" y2="581.68" stroke="#505050" stroke-width="0.7"/>
<line x1="33.5" y1="565.33" x2="35" y2="565.33" stroke="#505050" stroke-width="0.7"/>
<line x1="33.5" y1="532.61" x2="35" y2="532.61" stroke="#505050" stroke-width="0.7"/>
<line x1="33.5" y1="516.25" x2="35" y2="516.25" stroke="#505050" stroke-width="0.7"/>
<line x1="33.5" y1="499.89" x2="35" y2="499.89" stroke="#505050" stroke-width="0.7"/>
<line x1="33.5" y1="467.18" x2="35" y2="467.18" stroke="#505050" stroke-width="0.7"/>
<line x1="33.5" y1="450.82" x2="35" y2="450.82" stroke="#505050" stroke-width="0.7"/>
<line x1="33.5" y1="434.46" x2="35" y2="434.46" stroke="#505050" stroke-width="0.7"/>
<line x1="68" y1="485.3" x2="80.5" y2="485.3" stroke="#333" stroke-width="0.9"/>
<text x="74.25" y="486.19" font-size="7.5" text-anchor="middle" fill="#000" stroke="#000" stroke-width="0.2">*</text>
<line x1="122.9" y1="509.6" x2="134.1" y2="509.6" stroke="#333" stroke-width="0.9"/>
<text x="128.5" y="510.49" font-size="7.5" text-anchor="middle" fill="#000" stroke="#000" stroke-width="0.2">*</text>
<line x1="177.8" y1="440.1" x2="188.7" y2="440.1" stroke="#333" stroke-width="0.9"/>
<text x="183.25" y="438.3" font-size="7.8" text-anchor="middle" fill="#1a1a1a" stroke="#1a1a1a" stroke-width="0.2">ns</text>
<line x1="231.9" y1="571.8" x2="243.1" y2="571.8" stroke="#333" stroke-width="0.9"/>
<text x="237.5" y="570" font-size="7.8" text-anchor="middle" fill="#1a1a1a" stroke="#1a1a1a" stroke-width="0.2">ns</text>
<text transform="translate(10.4,516.5) rotate(-90)" font-size="10.5" text-anchor="middle" fill="#1a1a1a" stroke="#1a1a1a" stroke-width="0.2">FOV gene counts</text>
<rect x="280.9" y="583.4" width="7.3" height="31" fill="#0c0c0c"/>
<line x1="284.55" y1="583.7" x2="284.55" y2="573.6" stroke="#111" stroke-width="1.15"/>
<line x1="282.14" y1="573.6" x2="286.96" y2="573.6" stroke="#111" stroke-width="1.15"/>
<rect x="289.65" y="537.2" width="7.3" height="77.2" fill="#1e9148"/>
<line x1="293.3" y1="537.5" x2="293.3" y2="510" stroke="#236e44" stroke-width="1.15"/>
<line x1="290.89" y1="510" x2="295.71" y2="510" stroke="#2c5a3c" stroke-width="1.15"/>
<rect x="298.4" y="588.4" width="7.3" height="26" fill="#3f86c8"/>
<line x1="302.05" y1="588.7" x2="302.05" y2="577.4" stroke="#2f70b4" stroke-width="1.15"/>
<line x1="299.64" y1="577.4" x2="304.46" y2="577.4" stroke="#2f5f92" stroke-width="1.15"/>
<rect x="307.15" y="517.4" width="7.3" height="97" fill="#ad1f28"/>
<line x1="310.8" y1="517.7" x2="310.8" y2="487.4" stroke="#9e1c2a" stroke-width="1.15"/>
<line x1="308.39" y1="487.4" x2="313.21" y2="487.4" stroke="#7a2028" stroke-width="1.15"/>
<text x="295.17" y="626.3" font-size="8.9" text-anchor="middle" font-style="italic" fill="#1a1a1a" stroke="#1a1a1a" stroke-width="0.3">Cxcr5</text>
<line x1="297.67" y1="614.4" x2="297.67" y2="617.4" stroke="#505050" stroke-width="0.9"/>
<line x1="277.5" y1="460.1" x2="277.5" y2="615" stroke="#505050" stroke-width="1"/>
<line x1="277" y1="614.5" x2="317.8" y2="614.5" stroke="#505050" stroke-width="1"/>
<line x1="273.3" y1="614.4" x2="277.4" y2="614.4" stroke="#505050" stroke-width="0.9"/>
<text x="273.2" y="616.38" font-size="5.5" text-anchor="end" fill="#1a1a1a" stroke="#1a1a1a" stroke-width="0.2">0</text>
<line x1="273.3" y1="583.64" x2="277.4" y2="583.64" stroke="#505050" stroke-width="0.9"/>
<text x="273.2" y="585.62" font-size="5.5" text-anchor="end" fill="#1a1a1a" stroke="#1a1a1a" stroke-width="0.2">50</text>
<line x1="273.3" y1="552.88" x2="277.4" y2="552.88" stroke="#505050" stroke-width="0.9"/>
<text x="273.2" y="554.86" font-size="5.5" text-anchor="end" fill="#1a1a1a" stroke="#1a1a1a" stroke-width="0.2">100</text>
<line x1="273.3" y1="522.12" x2="277.4" y2="522.12" stroke="#505050" stroke-width="0.9"/>
<text x="273.2" y="524.1" font-size="5.5" text-anchor="end" fill="#1a1a1a" stroke="#1a1a1a" stroke-width="0.2">150</text>
<line x1="273.3" y1="491.36" x2="277.4" y2="491.36" stroke="#505050" stroke-width="0.9"/>
<text x="273.2" y="493.34" font-size="5.5" text-anchor="end" fill="#1a1a1a" stroke="#1a1a1a" stroke-width="0.2">200</text>
<line x1="273.3" y1="460.6" x2="277.4" y2="460.6" stroke="#505050" stroke-width="0.9"/>
<text x="273.2" y="462.58" font-size="5.5" text-anchor="end" fill="#1a1a1a" stroke="#1a1a1a" stroke-width="0.2">250</text>
<line x1="275.9" y1="606.71" x2="277.4" y2="606.71" stroke="#505050" stroke-width="0.7"/>
<line x1="275.9" y1="599.02" x2="277.4" y2="599.02" stroke="#505050" stroke-width="0.7"/>
<line x1="275.9" y1="591.33" x2="277.4" y2="591.33" stroke="#505050" stroke-width="0.7"/>
<line x1="275.9" y1="575.95" x2="277.4" y2="575.95" stroke="#505050" stroke-width="0.7"/>
<line x1="275.9" y1="568.26" x2="277.4" y2="568.26" stroke="#505050" stroke-width="0.7"/>
<line x1="275.9" y1="560.57" x2="277.4" y2="560.57" stroke="#505050" stroke-width="0.7"/>
<line x1="275.9" y1="545.19" x2="277.4" y2="545.19" stroke="#505050" stroke-width="0.7"/>
<line x1="275.9" y1="537.5" x2="277.4" y2="537.5" stroke="#505050" stroke-width="0.7"/>
<line x1="275.9" y1="529.81" x2="277.4" y2="529.81" stroke="#505050" stroke-width="0.7"/>
<line x1="275.9" y1="514.43" x2="277.4" y2="514.43" stroke="#505050" stroke-width="0.7"/>
<line x1="275.9" y1="506.74" x2="277.4" y2="506.74" stroke="#505050" stroke-width="0.7"/>
<line x1="275.9" y1="499.05" x2="277.4" y2="499.05" stroke="#505050" stroke-width="0.7"/>
<line x1="275.9" y1="483.67" x2="277.4" y2="483.67" stroke="#505050" stroke-width="0.7"/>
<line x1="275.9" y1="475.98" x2="277.4" y2="475.98" stroke="#505050" stroke-width="0.7"/>
<line x1="275.9" y1="468.29" x2="277.4" y2="468.29" stroke="#505050" stroke-width="0.7"/>
<line x1="304" y1="484" x2="313" y2="484" stroke="#333" stroke-width="0.9"/>
<text x="308.5" y="484.89" font-size="7.5" text-anchor="middle" fill="#000" stroke="#000" stroke-width="0.2">*</text>
<rect x="357.6" y="554.8" width="7.2" height="59.4" fill="#0c0c0c"/>
<line x1="361.2" y1="555.1" x2="361.2" y2="543.6" stroke="#111" stroke-width="1.15"/>
<line x1="358.82" y1="543.6" x2="363.58" y2="543.6" stroke="#111" stroke-width="1.15"/>
<rect x="366.55" y="544.2" width="7.2" height="70" fill="#1e9148"/>
<line x1="370.15" y1="544.5" x2="370.15" y2="540.6" stroke="#236e44" stroke-width="1.15"/>
<line x1="367.77" y1="540.6" x2="372.53" y2="540.6" stroke="#2c5a3c" stroke-width="1.15"/>
<rect x="375.5" y="556.8" width="7.2" height="57.4" fill="#3f86c8"/>
<line x1="379.1" y1="557.1" x2="379.1" y2="554.8" stroke="#2f70b4" stroke-width="1.15"/>
<line x1="376.72" y1="554.8" x2="381.48" y2="554.8" stroke="#2f5f92" stroke-width="1.15"/>
<rect x="384.45" y="522.9" width="7.2" height="91.3" fill="#ad1f28"/>
<line x1="388.05" y1="523.2" x2="388.05" y2="518.7" stroke="#9e1c2a" stroke-width="1.15"/>
<line x1="385.67" y1="518.7" x2="390.43" y2="518.7" stroke="#7a2028" stroke-width="1.15"/>
<text x="374.62" y="626.3" font-size="9" text-anchor="middle" font-style="italic" fill="#1a1a1a" stroke="#1a1a1a" stroke-width="0.3">Tnfrsf1b</text>
<line x1="374.62" y1="614.2" x2="374.62" y2="617.2" stroke="#505050" stroke-width="0.9"/>
<rect x="400.5" y="583.1" width="7.2" height="31.1" fill="#0c0c0c"/>
<line x1="404.1" y1="583.4" x2="404.1" y2="578.3" stroke="#111" stroke-width="1.15"/>
<line x1="401.72" y1="578.3" x2="406.48" y2="578.3" stroke="#111" stroke-width="1.15"/>
<rect x="409.45" y="581.9" width="7.2" height="32.3" fill="#1e9148"/>
<line x1="413.05" y1="582.2" x2="413.05" y2="576.6" stroke="#236e44" stroke-width="1.15"/>
<line x1="410.67" y1="576.6" x2="415.43" y2="576.6" stroke="#2c5a3c" stroke-width="1.15"/>
<rect x="418.4" y="587.4" width="7.2" height="26.8" fill="#3f86c8"/>
<line x1="422" y1="587.7" x2="422" y2="583.1" stroke="#2f70b4" stroke-width="1.15"/>
<line x1="419.62" y1="583.1" x2="424.38" y2="583.1" stroke="#2f5f92" stroke-width="1.15"/>
<rect x="427.35" y="555.3" width="7.2" height="58.9" fill="#ad1f28"/>
<line x1="430.95" y1="555.6" x2="430.95" y2="541.7" stroke="#9e1c2a" stroke-width="1.15"/>
<line x1="428.57" y1="541.7" x2="433.33" y2="541.7" stroke="#7a2028" stroke-width="1.15"/>
<text x="417.52" y="626.3" font-size="9" text-anchor="middle" font-style="italic" fill="#1a1a1a" stroke="#1a1a1a" stroke-width="0.3">Tnfrsf10b</text>
<line x1="417.52" y1="614.2" x2="417.52" y2="617.2" stroke="#505050" stroke-width="0.9"/>
<line x1="353.5" y1="486.4" x2="353.5" y2="615" stroke="#505050" stroke-width="1"/>
<line x1="353" y1="614.5" x2="439.6" y2="614.5" stroke="#505050" stroke-width="1"/>
<line x1="349.3" y1="614.2" x2="353.5" y2="614.2" stroke="#505050" stroke-width="0.9"/>
<text x="349.2" y="616.79" font-size="7.2" text-anchor="end" fill="#1a1a1a" stroke="#1a1a1a" stroke-width="0.2">0</text>
<line x1="349.3" y1="582.38" x2="353.5" y2="582.38" stroke="#505050" stroke-width="0.9"/>
<text x="349.2" y="584.97" font-size="7.2" text-anchor="end" fill="#1a1a1a" stroke="#1a1a1a" stroke-width="0.2">500</text>
<line x1="349.3" y1="550.55" x2="353.5" y2="550.55" stroke="#505050" stroke-width="0.9"/>
<text x="349.2" y="553.14" font-size="7.2" text-anchor="end" fill="#1a1a1a" stroke="#1a1a1a" stroke-width="0.2">1,000</text>
<line x1="349.3" y1="518.73" x2="353.5" y2="518.73" stroke="#505050" stroke-width="0.9"/>
<text x="349.2" y="521.32" font-size="7.2" text-anchor="end" fill="#1a1a1a" stroke="#1a1a1a" stroke-width="0.2">1,500</text>
<line x1="349.3" y1="486.9" x2="353.5" y2="486.9" stroke="#505050" stroke-width="0.9"/>
<text x="349.2" y="489.49" font-size="7.2" text-anchor="end" fill="#1a1a1a" stroke="#1a1a1a" stroke-width="0.2">2,000</text>
<line x1="352" y1="606.24" x2="353.5" y2="606.24" stroke="#505050" stroke-width="0.7"/>
<line x1="352" y1="598.29" x2="353.5" y2="598.29" stroke="#505050" stroke-width="0.7"/>
<line x1="352" y1="590.33" x2="353.5" y2="590.33" stroke="#505050" stroke-width="0.7"/>
<line x1="352" y1="574.42" x2="353.5" y2="574.42" stroke="#505050" stroke-width="0.7"/>
<line x1="352" y1="566.46" x2="353.5" y2="566.46" stroke="#505050" stroke-width="0.7"/>
<line x1="352" y1="558.51" x2="353.5" y2="558.51" stroke="#505050" stroke-width="0.7"/>
<line x1="352" y1="542.59" x2="353.5" y2="542.59" stroke="#505050" stroke-width="0.7"/>
<line x1="352" y1="534.64" x2="353.5" y2="534.64" stroke="#505050" stroke-width="0.7"/>
<line x1="352" y1="526.68" x2="353.5" y2="526.68" stroke="#505050" stroke-width="0.7"/>
<line x1="352" y1="510.77" x2="353.5" y2="510.77" stroke="#505050" stroke-width="0.7"/>
<line x1="352" y1="502.81" x2="353.5" y2="502.81" stroke="#505050" stroke-width="0.7"/>
<line x1="352" y1="494.86" x2="353.5" y2="494.86" stroke="#505050" stroke-width="0.7"/>
<line x1="376.2" y1="512.4" x2="387.4" y2="512.4" stroke="#333" stroke-width="0.9"/>
<text x="381.8" y="513.29" font-size="7.5" text-anchor="middle" fill="#000" stroke="#000" stroke-width="0.2">*</text>
<line x1="416.8" y1="539.2" x2="428" y2="539.2" stroke="#333" stroke-width="0.9"/>
<text x="422.4" y="540.09" font-size="7.5" text-anchor="middle" fill="#000" stroke="#000" stroke-width="0.2">*</text>
<rect x="477" y="516" width="7.1" height="98.7" fill="#0c0c0c"/>
<line x1="480.55" y1="516.3" x2="480.55" y2="497.4" stroke="#111" stroke-width="1.15"/>
<line x1="478.21" y1="497.4" x2="482.89" y2="497.4" stroke="#111" stroke-width="1.15"/>
<rect x="485.95" y="537.2" width="7.1" height="77.5" fill="#1e9148"/>
<line x1="489.5" y1="537.5" x2="489.5" y2="515.8" stroke="#236e44" stroke-width="1.15"/>
<line x1="487.16" y1="515.8" x2="491.84" y2="515.8" stroke="#2c5a3c" stroke-width="1.15"/>
<rect x="494.9" y="502.9" width="7.1" height="111.8" fill="#3f86c8"/>
<line x1="498.45" y1="503.2" x2="498.45" y2="485.5" stroke="#2f70b4" stroke-width="1.15"/>
<line x1="496.11" y1="485.5" x2="500.79" y2="485.5" stroke="#2f5f92" stroke-width="1.15"/>
<rect x="503.85" y="550.4" width="7.1" height="64.3" fill="#ad1f28"/>
<line x1="507.4" y1="550.7" x2="507.4" y2="540.8" stroke="#9e1c2a" stroke-width="1.15"/>
<line x1="505.06" y1="540.8" x2="509.74" y2="540.8" stroke="#7a2028" stroke-width="1.15"/>
<text x="493.98" y="626.3" font-size="9.1" text-anchor="middle" font-style="italic" fill="#1a1a1a" stroke="#1a1a1a" stroke-width="0.3">Tfgb1</text>
<line x1="493.98" y1="614.7" x2="493.98" y2="617.7" stroke="#505050" stroke-width="0.9"/>
<line x1="472.5" y1="470.3" x2="472.5" y2="615" stroke="#505050" stroke-width="1"/>
<line x1="472" y1="614.5" x2="514.2" y2="614.5" stroke="#505050" stroke-width="1"/>
<line x1="468.1" y1="614.7" x2="472.6" y2="614.7" stroke="#505050" stroke-width="0.9"/>
<text x="468" y="617.58" font-size="8" text-anchor="end" fill="#1a1a1a" stroke="#1a1a1a" stroke-width="0.2">0</text>
<line x1="468.1" y1="566.73" x2="472.6" y2="566.73" stroke="#505050" stroke-width="0.9"/>
<text x="468" y="569.61" font-size="8" text-anchor="end" fill="#1a1a1a" stroke="#1a1a1a" stroke-width="0.2">500</text>
<line x1="468.1" y1="518.77" x2="472.6" y2="518.77" stroke="#505050" stroke-width="0.9"/>
<text x="468" y="521.65" font-size="8" text-anchor="end" fill="#1a1a1a" stroke="#1a1a1a" stroke-width="0.2">1,000</text>
<line x1="468.1" y1="470.8" x2="472.6" y2="470.8" stroke="#505050" stroke-width="0.9"/>
<text x="468" y="473.68" font-size="8" text-anchor="end" fill="#1a1a1a" stroke="#1a1a1a" stroke-width="0.2">1,500</text>
<line x1="471.1" y1="602.71" x2="472.6" y2="602.71" stroke="#505050" stroke-width="0.7"/>
<line x1="471.1" y1="590.72" x2="472.6" y2="590.72" stroke="#505050" stroke-width="0.7"/>
<line x1="471.1" y1="578.73" x2="472.6" y2="578.73" stroke="#505050" stroke-width="0.7"/>
<line x1="471.1" y1="554.74" x2="472.6" y2="554.74" stroke="#505050" stroke-width="0.7"/>
<line x1="471.1" y1="542.75" x2="472.6" y2="542.75" stroke="#505050" stroke-width="0.7"/>
<line x1="471.1" y1="530.76" x2="472.6" y2="530.76" stroke="#505050" stroke-width="0.7"/>
<line x1="471.1" y1="506.78" x2="472.6" y2="506.78" stroke="#505050" stroke-width="0.7"/>
<line x1="471.1" y1="494.78" x2="472.6" y2="494.78" stroke="#505050" stroke-width="0.7"/>
<line x1="471.1" y1="482.79" x2="472.6" y2="482.79" stroke="#505050" stroke-width="0.7"/>
<line x1="499.7" y1="479.8" x2="510.6" y2="479.8" stroke="#333" stroke-width="0.9"/>
<text x="505.15" y="480.69" font-size="7.5" text-anchor="middle" fill="#000" stroke="#000" stroke-width="0.2">*</text>
<line x1="262.5" y1="547.2" x2="262.5" y2="549" stroke="#555" stroke-width="0.7"/>
<text x="169.6" y="22.1" font-size="12.8" fill="#1a1a1a" stroke="#1a1a1a" stroke-width="0.2">Cytotoxic T-cell function</text>
<text x="101.3" y="221.6" font-size="12.8" fill="#1a1a1a" stroke="#1a1a1a" stroke-width="0.2">Innate immune response</text>
<text x="437.3" y="216.8" font-size="11.9" fill="#1a1a1a" stroke="#1a1a1a" stroke-width="0.2">ISGs</text>
<text x="362.7" y="17.9" font-size="10.25" fill="#222">Placebo + isotype</text>
<text x="362.7" y="30.3" font-size="10.25" fill="#36995a">Isotype + Debio-025</text>
<text x="362.7" y="42.7" font-size="10.25" fill="#4583c0">Placebo + anti-PD-1</text>
<text x="362.7" y="55.1" font-size="10.25" fill="#a62c38">Debio-025 + anti-PD-1</text>
<text x="0.5" y="10.1" font-size="13.1" font-weight="bold" fill="#000" stroke="#000" stroke-width="0.35">A</text>
<text x="0.8" y="206" font-size="13.1" font-weight="bold" fill="#000" stroke="#000" stroke-width="0.35">B</text>
<text x="305.8" y="206" font-size="13.1" font-weight="bold" fill="#000" stroke="#000" stroke-width="0.35">C</text>
<text x="0.3" y="410.7" font-size="13.1" font-weight="bold" fill="#000" stroke="#000" stroke-width="0.35">D</text>
<text x="258.6" y="437.8" font-size="13.1" font-weight="bold" fill="#000" stroke="#000" stroke-width="0.35">E</text>
<text x="354.6" y="438.7" font-size="13.1" font-weight="bold" fill="#000" stroke="#000" stroke-width="0.35">F</text>
<text x="452.5" y="439.3" font-size="13.1" font-weight="bold" fill="#000" stroke="#000" stroke-width="0.35">G</text>
</svg>
</body></html>
